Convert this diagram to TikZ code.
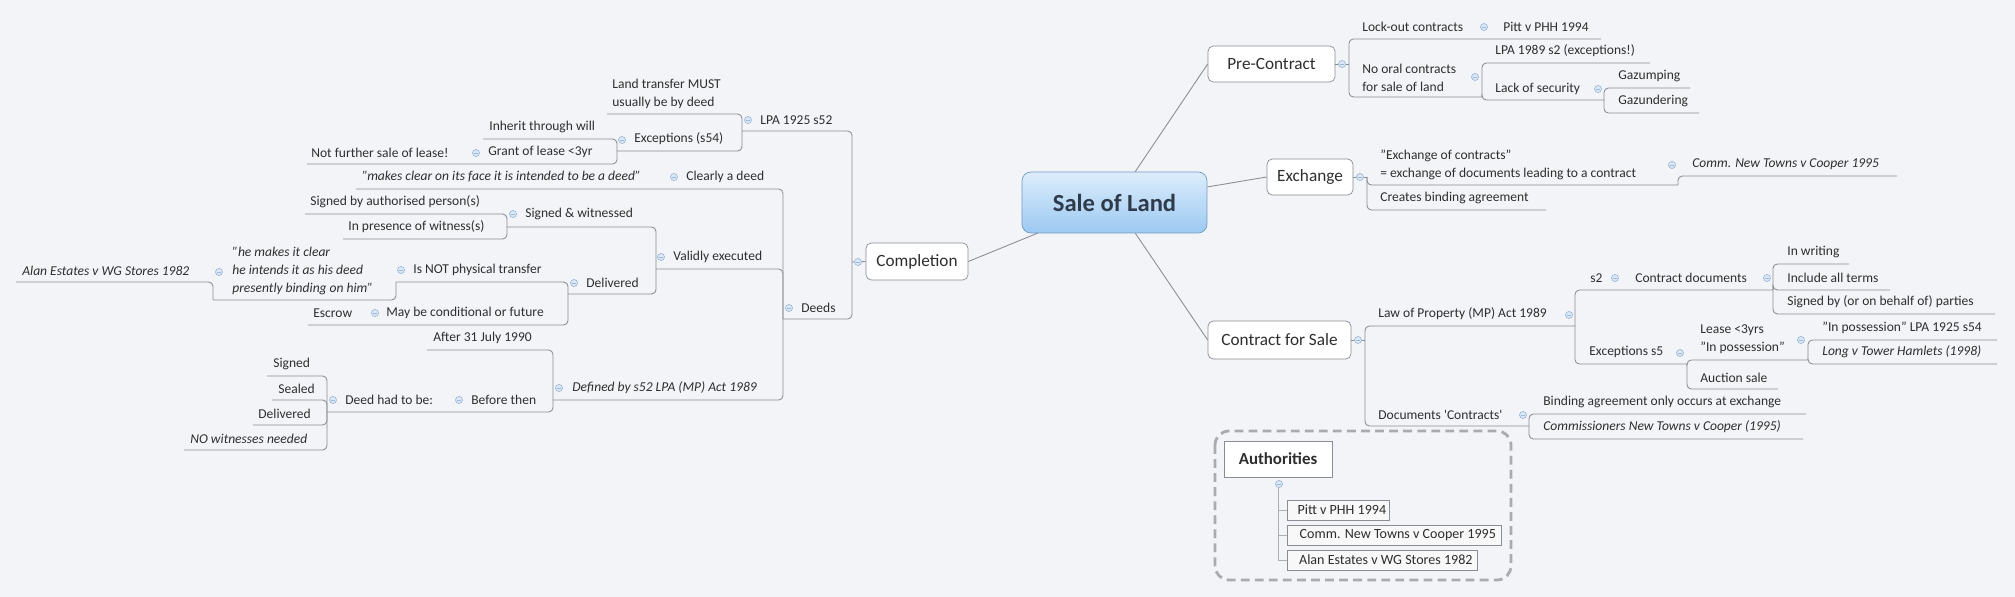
\documentclass[tikz,border=0pt]{standalone}
\usepackage{fontspec}
\setmainfont{Carlito}
\usetikzlibrary{calc}
\definecolor{bgc}{HTML}{F3F4F7}
\definecolor{lnc}{HTML}{8A8D93}
\definecolor{txc}{HTML}{2E2E2E}
\definecolor{mkf}{HTML}{DCE8F6}
\definecolor{mkd}{HTML}{9DB9DA}
\definecolor{solt}{HTML}{DDEDFC}
\definecolor{solb}{HTML}{9CC9F1}
\definecolor{sold}{HTML}{6E9CC6}
\definecolor{soltx}{HTML}{2F3B4A}
\definecolor{dashc}{HTML}{A9ABAF}
\definecolor{auf}{HTML}{F8F8F9}
\tikzset{
 t/.style={font=\fontsize{7.7}{10}\selectfont, text=txc, inner sep=0pt, align=left},
 ti/.style={t, font=\fontsize{7.7}{10}\selectfont\itshape},
 ln/.style={draw=lnc, line width=0.5pt, rounded corners=2.5pt},
 box/.style={draw=lnc, fill=white, rounded corners=3pt, text=txc, font=\fontsize{9.8}{12}\selectfont, inner sep=0pt},
 abox/.style={draw=lnc, fill=auf, text=txc, font=\fontsize{8}{10}\selectfont, inner sep=0pt, minimum height=0.4cm, anchor=west, align=left}
}
\newcommand\mk[2]{\draw[mkd, fill=mkf, line width=0.4pt] (#1,#2) circle[radius=2pt]; \draw[mkd, line width=0.4pt] ($(#1,#2)+(-2.2,0)$) -- ($(#1,#2)+(2.2,0)$);}
\newcommand\br[4]{\draw[ln] (#1,#2) |- (#3,#4);}
\begin{document}
\begin{tikzpicture}[x=0.02cm, y=-0.02cm]
\fill[bgc] (0,0) rectangle (2015,597);
\useasboundingbox (0,0) rectangle (2015,597);

% central and main boxes
\node[draw=sold, rounded corners=5pt, top color=solt, bottom color=solb, minimum width=3.7cm, minimum height=1.22cm, font=\fontsize{14}{16}\selectfont\bfseries, text=soltx, inner sep=0pt] (sol) at (1114.5,202.5) {Sale of Land};
\node[box, minimum width=2.54cm, minimum height=0.72cm] (pre) at (1271.5,64) {Pre-Contract};
\node[box, minimum width=1.72cm, minimum height=0.72cm] (exc) at (1310,177) {Exchange};
\node[box, minimum width=2.86cm, minimum height=0.76cm] (cfs) at (1279.5,340) {Contract for Sale};
\node[box, minimum width=2.04cm, minimum height=0.74cm] (comp) at (917,261.5) {Completion};
\coordinate (solc) at (1038,233);
\draw[lnc, line width=0.5pt] (sol) -- (pre.west);
\draw[lnc, line width=0.5pt] (sol) -- (exc.west);
\draw[lnc, line width=0.5pt] (sol) -- (cfs.west);
\draw[lnc, line width=0.5pt] (comp.east) -- (solc);

% ---------- Pre-Contract
\draw[ln] (pre.east) -- (1349,64); \mk{1342}{64}
\br{1349}{64}{1601}{39}
\br{1349}{64}{1482}{97}
\node[t, anchor=west] (lock) at (1362,27) {Lock-out contracts}; \mk{1484}{27}
\node[t, anchor=west] (pitt) at (1503,27) {Pitt v PHH 1994};
\node[t, anchor=west] (oral) at (1362,78) {No oral contracts\\for sale of land}; \mk{1475}{77}
\br{1482}{97}{1650}{63}
\node[t, anchor=west] (lpa89) at (1495,51) {LPA 1989 s2 (exceptions!)};
\br{1482}{97}{1604}{100}
\node[t, anchor=west] (lack) at (1495,89) {Lack of security}; \mk{1598}{89}
\br{1604}{100}{1690}{88}
\node[t, anchor=west] (gzm) at (1618,76) {Gazumping};
\br{1604}{100}{1699}{113}
\node[t, anchor=west] (gzd) at (1618,101) {Gazundering};

% ---------- Exchange
\draw[ln] (exc.east) -- (1367,177); \mk{1360}{177}
\br{1367}{177}{1678}{185}
\node[t, anchor=west] (exq) at (1380,165) {"Exchange of contracts"\\= exchange of documents leading to a contract}; \mk{1672}{165}
\br{1678}{185}{1897}{176}
\node[ti, anchor=west] (cnt) at (1692,164) {Comm. New Towns v Cooper 1995};
\br{1367}{177}{1546}{210}
\node[t, anchor=west] (cba) at (1380,198) {Creates binding agreement};

% ---------- Contract for Sale
\draw[ln] (cfs.east) -- (1365,340); \mk{1358}{340}
\br{1365}{340}{1575}{326}
\node[t, anchor=west] (lpmp) at (1378,314) {Law of Property (MP) Act 1989}; \mk{1569}{315}
\br{1365}{340}{1529}{426}
\node[t, anchor=west] (docs) at (1378,415) {Documents \textquotesingle Contracts\textquotesingle}; \mk{1523}{415}
\br{1575}{326}{1773}{290}
\node[t, anchor=west] (s2) at (1590,278) {s2}; \mk{1615}{278}
\node[t, anchor=west] (cdoc) at (1635,278) {Contract documents}; \mk{1767}{278}
\br{1773}{290}{1849}{264}
\node[t, anchor=west] (inw) at (1787,252) {In writing};
\br{1773}{290}{1890}{290}
\node[t, anchor=west] (iat) at (1787,278) {Include all terms};
\br{1773}{290}{1995}{314}
\node[t, anchor=west] (sbp) at (1787,302) {Signed by (or on behalf of) parties};
\br{1575}{326}{1687}{364}
\node[t, anchor=west] (exs5) at (1589,352) {Exceptions s5}; \mk{1680}{353}
\br{1687}{364}{1808}{360}
\node[t, anchor=west] (lease) at (1700,339) {Lease <3yrs\\"In possession"}; \mk{1801}{340}
\br{1808}{360}{1997}{340}
\node[t, anchor=west] (inpos) at (1822,328) {"In possession" LPA 1925 s54};
\br{1808}{360}{1997}{364}
\node[ti, anchor=west] (long) at (1822,352) {Long v Tower Hamlets (1998)};
\br{1687}{364}{1778}{389}
\node[t, anchor=west] (auc) at (1700,378) {Auction sale};
\br{1529}{426}{1806}{414}
\node[t, anchor=west] (bind) at (1543,402) {Binding agreement only occurs at exchange};
\br{1529}{426}{1803}{439}
\node[ti, anchor=west] (comm) at (1543,427) {Commissioners New Towns v Cooper (1995)};

% ---------- Completion (left side)
\draw[ln] (comp.west) -- (852,262); \mk{858}{262}
\br{852}{262}{742}{131}
\node[t, anchor=west] (lpa25) at (760,120) {LPA 1925 s52}; \mk{748}{120}
\br{852}{262}{783}{319}
\node[t, anchor=west] (deeds) at (801,308) {Deeds}; \mk{789}{308}
\br{742}{131}{607}{114}
\node[t, anchor=west] (ltm) at (612,94) {Land transfer MUST\\usually be by deed};
\br{742}{131}{617}{151}
\node[t, anchor=west] (exc54) at (634,139) {Exceptions (s54)}; \mk{622}{140}
\br{617}{151}{483}{139}
\node[t, anchor=west] (inh) at (489,127) {Inherit through will};
\br{617}{151}{307}{164}
\node[t, anchor=west] (gol) at (488,152) {Grant of lease <3yr}; \mk{476}{153}
\node[t, anchor=west] (nfs) at (311,153) {Not further sale of lease!};
\br{783}{319}{356}{189}
\node[t, anchor=west] (cad) at (686,177) {Clearly a deed}; \mk{674}{177}
\node[ti, anchor=west] (mcf) at (362,177) {"makes clear on its face it is intended to be a deed"};
\br{783}{319}{656}{269}
\node[t, anchor=west] (vex) at (673,257) {Validly executed}; \mk{661}{257}
\br{783}{319}{553}{400}
\node[ti, anchor=west] (dfs) at (572,388) {Defined by s52 LPA (MP) Act 1989}; \mk{559}{388}
\br{656}{269}{507}{227}
\node[t, anchor=west] (sw) at (525,214) {Signed \& witnessed}; \mk{513}{214}
\br{656}{269}{568}{294}
\node[t, anchor=west] (del) at (586,283) {Delivered}; \mk{574}{283}
\br{507}{227}{305}{214}
\node[t, anchor=west] (sap) at (310,202) {Signed by authorised person(s)};
\br{507}{227}{343}{239}
\node[t, anchor=west] (ipw) at (348,227) {In presence of witness(s)};
\br{568}{294}{396}{282}
\node[t, anchor=west] (inp) at (413,270) {Is NOT physical transfer}; \mk{401}{270}
\br{568}{294}{308}{325}
\node[t, anchor=west] (mbc) at (386,313) {May be conditional or future}; \mk{375}{313}
\node[t, anchor=west] (esc) at (313,313) {Escrow};
\br{396}{282}{213}{300}
\node[ti, anchor=west] (hmc) at (232,271) {"he makes it clear\\he intends it as his deed\\presently binding on him"}; \mk{219}{272}
\br{213}{300}{16}{282}
\node[ti, anchor=west] (alan) at (22,271) {Alan Estates v WG Stores 1982};
\br{553}{400}{427}{350}
\node[t, anchor=west] (a31) at (433,338) {After 31 July 1990};
\br{553}{400}{327}{412}
\node[t, anchor=west] (bth) at (471,400) {Before then}; \mk{459}{400}
\node[t, anchor=west] (dhb) at (345,400) {Deed had to be:}; \mk{333}{400}
\br{327}{412}{267}{376}
\node[t, anchor=west] (sgn) at (273,364) {Signed};
\br{327}{412}{272}{400}
\node[t, anchor=west] (sea) at (278,389) {Sealed};
\br{327}{412}{253}{425}
\node[t, anchor=west] (dlv) at (258,414) {Delivered};
\br{327}{412}{184}{450}
\node[ti, anchor=west] (now) at (190,439) {NO witnesses needed};

% ---------- Authorities
\draw[draw=dashc, line width=1.6pt, rounded corners=8pt, dash pattern=on 5pt off 3pt] (1215,431) rectangle (1511,580);
\node[draw=lnc, fill=white, minimum width=2.16cm, minimum height=0.72cm, font=\fontsize{9.6}{12}\selectfont\bfseries, text=txc, inner sep=0pt] (auth) at (1278,459) {Authorities};
\node[abox, minimum width=2.04cm] (au1) at (1287,510) {\hspace{4pt}Pitt v PHH 1994};
\node[abox, minimum width=4.28cm] (au2) at (1287,535) {\hspace{4pt}Comm. New Towns v Cooper 1995};
\node[abox, minimum width=3.8cm] (au3) at (1287,560) {\hspace{4pt}Alan Estates v WG Stores 1982};
\draw[lnc!70, line width=0.5pt] (1278,487) |- (au3.west);
\draw[lnc!70, line width=0.5pt] (1278,510) -- (au1.west);
\draw[lnc!70, line width=0.5pt] (1278,535) -- (au2.west);
\mk{1279}{484}
\end{tikzpicture}
\end{document}
